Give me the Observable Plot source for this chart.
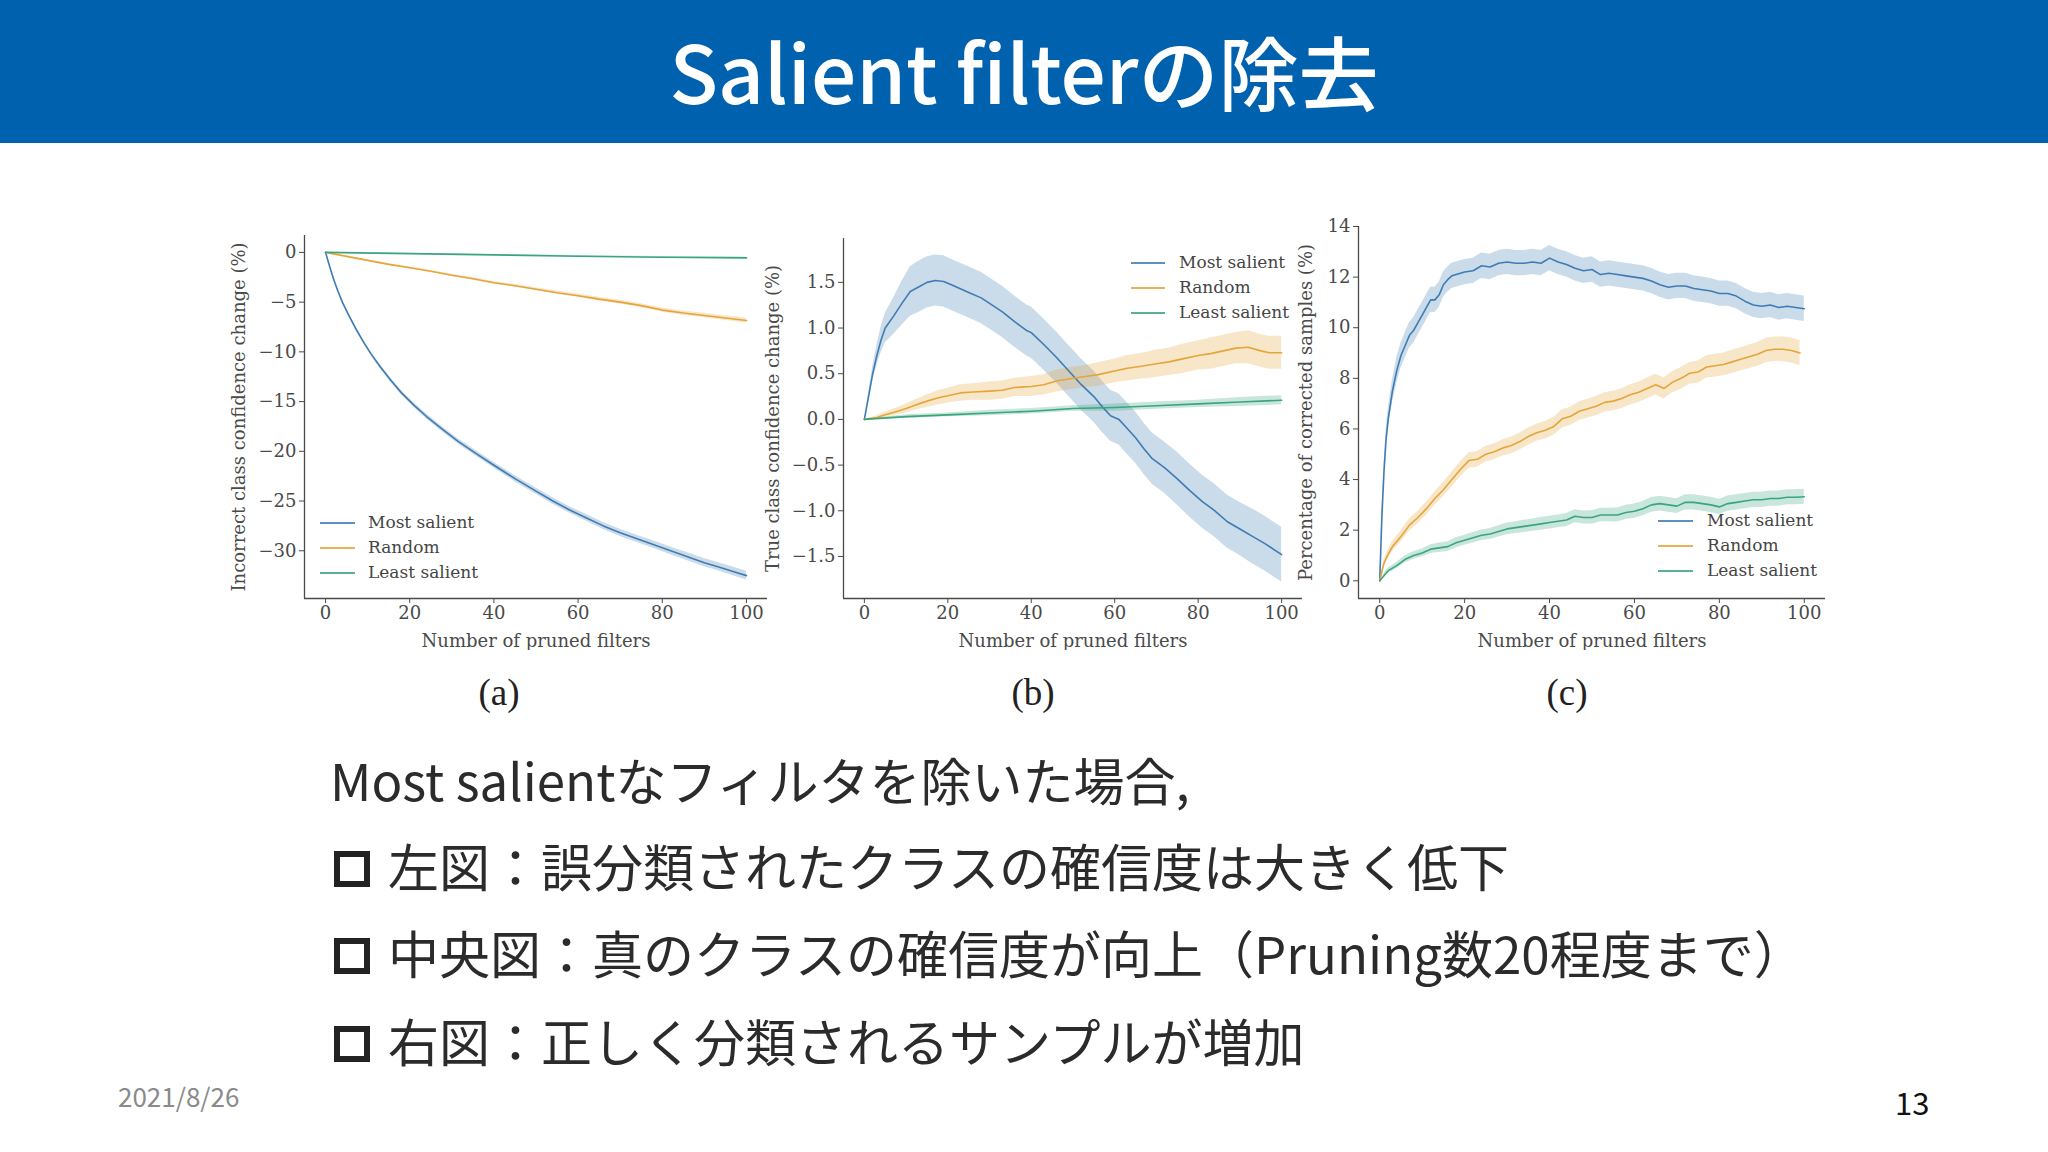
<!DOCTYPE html>
<html><head><meta charset="utf-8">
<script src="https://cdn.jsdelivr.net/npm/d3@7"></script>
<script src="https://cdn.jsdelivr.net/npm/@observablehq/plot@0.6"></script>
<style>
html,body{margin:0;padding:0;background:#fff;}
#page{position:relative;width:2048px;height:1152px;overflow:hidden;background:#fff;}
#hdr{position:absolute;left:0;top:0;width:2048px;height:143px;background:#0061AE;}
#title{position:absolute;left:0;top:0;width:2048px;height:138px;line-height:138px;text-align:center;color:#fff;font-family:"Noto Sans CJK JP","Noto Sans",sans-serif;font-weight:500;font-size:80px;}
.pan{position:absolute;}
.leg{position:absolute;font-family:"DejaVu Serif",serif;font-size:17px;color:#454545;}
.leg .row{position:absolute;left:0;height:25px;white-space:nowrap;}
.leg .sw{position:absolute;top:0;height:2px;}
.leg .tx{position:absolute;top:-12px;line-height:24px;}
.cap{position:absolute;width:100px;text-align:center;font-family:"Liberation Serif","DejaVu Serif",serif;font-size:37px;color:#222;line-height:40px;}
.line{position:absolute;left:330px;font-family:"Noto Sans CJK JP",sans-serif;font-size:51px;line-height:52px;color:#2b2b2b;white-space:nowrap;}
.box{display:inline-block;width:24px;height:24px;border:6px solid #222;vertical-align:middle;margin:0 18px 8px 4px;}
#date{position:absolute;left:118px;top:1081px;font-family:"Noto Sans CJK JP",sans-serif;font-size:26px;color:#8a8a8a;line-height:30px;}
#pno{position:absolute;left:1895px;top:1085px;font-family:"Noto Sans CJK JP",sans-serif;font-size:31px;color:#111;line-height:34px;}
</style></head>
<body><div id="page">
<div id="hdr"></div>
<div id="title">Salient filterの除去</div>
</div>
<script>
// ---------- data ----------
const seriesNames = ["Most salient", "Random", "Least salient"];
const seriesColors = ["#3F7CB3", "#E5A53B", "#3BA57C"];
const xTicks = [0, 20, 40, 60, 80, 100];
const xLabel = "Number of pruned filters";

// panel (a): [x, mean, half-width of band]
const aMost = [[0,0,0],[1,-1.45,0.05],[2,-2.8,0.07],[3,-3.95,0.09],[4.1,-5.1,0.11],[5.5,-6.3,0.13],[7.1,-7.6,0.14],[9,-9.0,0.16],[10.8,-10.2,0.17],[13,-11.5,0.19],[15.6,-12.9,0.2],[18,-14.1,0.21],[21.1,-15.4,0.23],[24,-16.5,0.24],[27.8,-17.8,0.25],[31.5,-19.0,0.26],[35.7,-20.2,0.27],[40,-21.4,0.28],[45.2,-22.8,0.3],[50,-24.0,0.31],[54,-25.0,0.32],[58,-25.9,0.33],[62,-26.7,0.34],[66,-27.5,0.35],[70,-28.2,0.36],[74,-28.8,0.37],[78,-29.4,0.38],[82,-30.0,0.39],[86,-30.6,0.4],[90,-31.2,0.41],[94,-31.7,0.42],[97,-32.1,0.43],[100,-32.5,0.43]];
const aRandom = [[0,0,0],[5,-0.4,0.05],[10,-0.8,0.07],[15,-1.2,0.08],[20,-1.55,0.1],[25,-1.9,0.1],[30,-2.3,0.11],[35,-2.65,0.12],[40,-3.05,0.13],[45,-3.35,0.14],[50,-3.7,0.15],[55,-4.05,0.16],[60,-4.35,0.17],[65,-4.7,0.18],[70,-5.0,0.19],[75,-5.35,0.2],[80,-5.8,0.21],[85,-6.1,0.22],[90,-6.35,0.23],[95,-6.6,0.24],[100,-6.85,0.25]];
const aLeast = [[0,0,0],[20,-0.12,0.04],[40,-0.25,0.05],[60,-0.38,0.06],[80,-0.48,0.07],[100,-0.55,0.08]];
const aYTicks = [0,-5,-10,-15,-20,-25,-30];
const aYDomain = [-34.8, 1.7];
const aYLabel = "Incorrect class confidence change (%)";

// panel (b)
const bMost = [[0,0,0],[1,0.25,0.04],[2,0.5,0.08],[3,0.7,0.11],[4,0.87,0.14],[5,1.0,0.16],[7,1.13,0.2],[9,1.27,0.24],[11,1.40,0.27],[13,1.45,0.28],[15,1.50,0.28],[17,1.52,0.28],[19,1.51,0.28],[21,1.47,0.28],[23,1.43,0.28],[25,1.39,0.28],[28,1.33,0.28],[30,1.27,0.28],[33,1.18,0.28],[36,1.07,0.28],[39,0.97,0.28],[40,0.95,0.28],[43,0.82,0.28],[46,0.68,0.28],[49,0.53,0.28],[52,0.38,0.28],[55,0.25,0.28],[57,0.14,0.28],[59,0.04,0.28],[61,0.0,0.28],[63,-0.1,0.28],[65,-0.2,0.28],[67,-0.32,0.28],[69,-0.43,0.28],[72,-0.53,0.28],[75,-0.65,0.29],[78,-0.78,0.29],[81,-0.9,0.29],[84,-1.0,0.29],[87,-1.12,0.29],[90,-1.2,0.29],[93,-1.28,0.3],[96,-1.36,0.3],[100,-1.48,0.3]];
const bRandom = [[0,0,0],[3,0.02,0.02],[5,0.05,0.03],[8,0.09,0.04],[10,0.12,0.05],[13,0.17,0.06],[15,0.2,0.07],[18,0.24,0.08],[20,0.26,0.08],[23,0.29,0.09],[26,0.3,0.09],[30,0.31,0.1],[33,0.32,0.1],[36,0.35,0.1],[40,0.36,0.11],[43,0.38,0.11],[46,0.42,0.12],[50,0.45,0.12],[53,0.47,0.12],[56,0.49,0.13],[60,0.53,0.13],[63,0.56,0.14],[66,0.58,0.14],[70,0.61,0.15],[73,0.63,0.15],[76,0.66,0.16],[80,0.7,0.16],[83,0.72,0.17],[86,0.75,0.17],[89,0.78,0.17],[92,0.79,0.18],[95,0.75,0.18],[97,0.73,0.18],[100,0.73,0.18]];
const bLeast = [[0,0,0],[10,0.03,0.02],[20,0.05,0.02],[30,0.07,0.03],[40,0.09,0.03],[50,0.12,0.03],[60,0.13,0.04],[70,0.15,0.04],[80,0.17,0.04],[90,0.19,0.05],[100,0.21,0.05]];
const bYTicks = [1.5,1.0,0.5,0.0,-0.5,-1.0,-1.5];
const bYDomain = [-1.96, 1.98];
const bYLabel = "True class confidence change (%)";

// panel (c)
const cMost = [[0,0,0],[0.5,2.5,0.2],[1,4.3,0.3],[1.5,5.6,0.35],[2,6.4,0.4],[3,7.5,0.45],[4,8.3,0.5],[5,8.9,0.5],[6,9.3,0.5],[7,9.7,0.5],[8,9.9,0.5],[9,10.2,0.5],[10,10.5,0.5],[11,10.8,0.5],[12,11.1,0.5],[13,11.1,0.5],[14,11.3,0.5],[15,11.7,0.5],[16,11.9,0.5],[17,12.05,0.5],[18,12.1,0.5],[20,12.2,0.5],[22,12.25,0.5],[24,12.45,0.5],[26,12.4,0.5],[28,12.55,0.5],[30,12.6,0.5],[32,12.55,0.5],[34,12.55,0.5],[36,12.6,0.5],[38,12.55,0.5],[40,12.75,0.5],[42,12.6,0.5],[44,12.5,0.5],[46,12.35,0.5],[48,12.25,0.5],[50,12.3,0.5],[52,12.1,0.5],[54,12.15,0.5],[56,12.1,0.5],[58,12.05,0.5],[60,12.0,0.5],[62,11.95,0.5],[64,11.85,0.5],[66,11.7,0.5],[68,11.6,0.5],[70,11.65,0.5],[72,11.65,0.5],[74,11.55,0.5],[76,11.5,0.5],[78,11.45,0.5],[80,11.35,0.5],[82,11.35,0.5],[84,11.25,0.5],[86,11.05,0.5],[88,10.9,0.5],[90,10.85,0.5],[92,10.9,0.5],[94,10.8,0.5],[96,10.85,0.5],[98,10.8,0.5],[100,10.75,0.5]];
const cRandom = [[0,0,0],[1,0.7,0.15],[2,1.05,0.18],[3,1.35,0.2],[5,1.75,0.22],[7,2.2,0.24],[9,2.5,0.25],[11,2.85,0.26],[13,3.25,0.27],[15,3.6,0.28],[17,4.0,0.29],[19,4.4,0.3],[21,4.75,0.3],[23,4.8,0.31],[25,5.0,0.31],[27,5.1,0.32],[29,5.25,0.32],[31,5.35,0.33],[33,5.5,0.33],[35,5.7,0.34],[37,5.85,0.34],[39,5.95,0.35],[41,6.1,0.35],[43,6.4,0.36],[45,6.5,0.36],[47,6.7,0.37],[49,6.8,0.37],[51,6.9,0.38],[53,7.05,0.38],[55,7.1,0.39],[57,7.2,0.39],[59,7.35,0.4],[61,7.45,0.4],[63,7.6,0.41],[65,7.75,0.41],[67,7.6,0.42],[69,7.85,0.42],[71,8.0,0.43],[73,8.2,0.43],[75,8.25,0.44],[77,8.45,0.44],[79,8.5,0.45],[81,8.55,0.45],[83,8.65,0.46],[85,8.75,0.46],[87,8.85,0.47],[89,8.95,0.47],[91,9.1,0.48],[93,9.15,0.48],[95,9.15,0.49],[97,9.1,0.49],[99,9.0,0.5]];
const cLeast = [[0,0,0],[1,0.2,0.08],[2,0.4,0.1],[4,0.6,0.12],[6,0.85,0.14],[8,1.0,0.15],[10,1.1,0.16],[12,1.25,0.17],[14,1.3,0.18],[16,1.35,0.19],[18,1.5,0.2],[20,1.6,0.2],[22,1.7,0.21],[24,1.8,0.21],[26,1.85,0.22],[28,1.95,0.22],[30,2.05,0.23],[32,2.1,0.23],[34,2.15,0.24],[36,2.2,0.24],[38,2.25,0.25],[40,2.3,0.25],[42,2.35,0.25],[44,2.4,0.26],[46,2.55,0.26],[48,2.5,0.26],[50,2.5,0.27],[52,2.6,0.27],[54,2.6,0.27],[56,2.6,0.28],[58,2.7,0.28],[60,2.75,0.28],[62,2.85,0.28],[64,3.0,0.29],[66,3.05,0.29],[68,3.0,0.29],[70,2.95,0.29],[72,3.1,0.3],[74,3.1,0.3],[76,3.05,0.3],[78,3.0,0.3],[80,2.92,0.3],[82,3.05,0.3],[84,3.1,0.3],[86,3.15,0.3],[88,3.2,0.3],[90,3.2,0.3],[92,3.25,0.3],[94,3.25,0.3],[96,3.3,0.3],[98,3.3,0.3],[100,3.32,0.3]];
const cYTicks = [0,2,4,6,8,10,12,14];
const cYDomain = [-0.7, 14];
const cYLabel = "Percentage of corrected samples (%)";

const captions = ["(a)", "(b)", "(c)"];
const bodyLines = [
  "Most salientなフィルタを除いた場合,",
  "左図：誤分類されたクラスの確信度は大きく低下",
  "中央図：真のクラスの確信度が向上（Pruning数20程度まで）",
  "右図：正しく分類されるサンプルが増加"
];
const dateText = "2021/8/26";
const pageNo = "13";

// ---------- drawing ----------
const page = document.getElementById("page");
const minus = d => (d < 0 ? "\u2212" + Math.abs(d) : String(d));
const minus1 = d => (d < 0 ? "\u2212" + Math.abs(d).toFixed(1) : d.toFixed(1));

function rowsOf(list) {
  const rows = [];
  list.forEach((pts, i) => pts.forEach(p => rows.push({name: seriesNames[i], x: p[0], y: p[1], lo: p[1] - p[2], hi: p[1] + p[2]})));
  return rows;
}

function panel(cfg) {
  const rows = rowsOf(cfg.series);
  const chart = Plot.plot({
    width: 570, height: 450,
    marginLeft: cfg.ml, marginRight: cfg.mr, marginTop: cfg.mt, marginBottom: cfg.mb,
    style: {fontFamily: "DejaVu Serif, serif", fontSize: "18px", color: "#4a4a4a", background: "transparent"},
    x: {domain: [-5, 105]},
    y: {domain: cfg.yDomain},
    color: {domain: seriesNames, range: seriesColors},
    marks: [
      Plot.areaY(rows, {x: "x", y1: "lo", y2: "hi", z: "name", fill: "name", fillOpacity: 0.28}),
      Plot.line(rows, {x: "x", y: "y", z: "name", stroke: "name", strokeWidth: 1.6}),
      Plot.ruleX([-5], {stroke: "#4a4a4a", strokeWidth: 1.3}),
      Plot.ruleY([cfg.yDomain[0]], {stroke: "#4a4a4a", strokeWidth: 1.3}),
      Plot.axisX({ticks: xTicks, tickSize: 5, tickPadding: 3, label: xLabel, labelAnchor: "center", labelOffset: 48, labelArrow: "none", fontSize: 18}),
      Plot.axisY({ticks: cfg.yTicks, tickFormat: cfg.fmt, tickSize: 5, tickPadding: 3, label: cfg.yLabel, labelAnchor: "center", labelOffset: cfg.lo, labelArrow: "none", fontSize: 18})
    ]
  });
  const div = document.createElement("div");
  div.className = "pan";
  div.style.left = cfg.left + "px";
  div.style.top = cfg.top + "px";
  div.appendChild(chart);
  page.appendChild(div);
}

function legend(x, y, lineW, textX) {
  const lg = document.createElement("div");
  lg.className = "leg";
  lg.style.left = x + "px";
  lg.style.top = y + "px";
  seriesNames.forEach((n, i) => {
    const r = document.createElement("div");
    r.className = "row";
    r.style.top = (i * 25) + "px";
    r.innerHTML = `<div class="sw" style="left:0;width:${lineW}px;background:${seriesColors[i]};opacity:0.85"></div><div class="tx" style="left:${textX}px">${n}</div>`;
    lg.appendChild(r);
  });
  page.appendChild(lg);
}

panel({series: [aMost, aRandom, aLeast], yDomain: aYDomain, yTicks: aYTicks, fmt: minus, yLabel: aYLabel,
  left: 220, top: 200, ml: 84, mr: 23, mt: 35, mb: 52, lo: 72});
panel({series: [bMost, bRandom, bLeast], yDomain: bYDomain, yTicks: bYTicks, fmt: minus1, yLabel: bYLabel,
  left: 760, top: 200, ml: 83, mr: 28, mt: 38, mb: 52, lo: 77});
panel({series: [cMost, cRandom, cLeast], yDomain: cYDomain, yTicks: cYTicks, fmt: minus, yLabel: cYLabel,
  left: 1290, top: 200, ml: 68, mr: 35, mt: 26, mb: 52, lo: 59});

legend(320, 522, 35, 48);
legend(1131, 262, 34, 48);
legend(1658, 520, 35, 49);

[499, 1033, 1567].forEach((cx, i) => {
  const c = document.createElement("div");
  c.className = "cap";
  c.style.left = (cx - 50) + "px";
  c.style.top = "673px";
  c.textContent = captions[i];
  page.appendChild(c);
});

[780, 866, 953, 1041].forEach((cy, i) => {
  const d = document.createElement("div");
  d.className = "line";
  d.style.top = (cy - 27) + "px";
  if (i === 0) d.textContent = bodyLines[i];
  else { d.style.left = "330px"; d.innerHTML = `<span class="box"></span>` + bodyLines[i]; }
  page.appendChild(d);
});

const dt = document.createElement("div"); dt.id = "date"; dt.textContent = dateText; page.appendChild(dt);
const pn = document.createElement("div"); pn.id = "pno"; pn.textContent = pageNo; page.appendChild(pn);
</script>
</body></html>
